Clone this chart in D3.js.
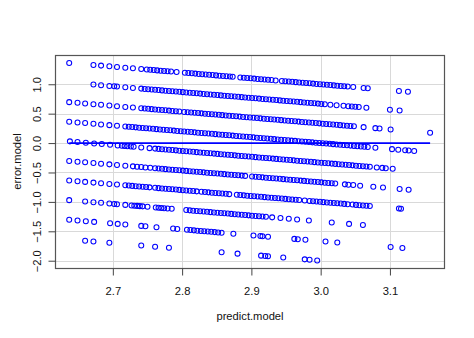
<!DOCTYPE html>
<html>
<head>
<meta charset="utf-8">
<script src="https://cdn.jsdelivr.net/npm/d3@7"></script>
<style>
  html, body { margin: 0; padding: 0; background: #ffffff; }
  svg { display: block; }
  text { font-family: "Liberation Sans", Arial, sans-serif; }
</style>
</head>
<body>
<svg id="chart" width="474" height="338"></svg>
<script>
// ---- data: predict.model (x) and error.model (y), by observed level band ----
const pred400 = [2.637,2.672,2.683,2.695,2.706,2.718,2.729,2.741,2.749,2.754,2.759,2.764,2.769,2.774,2.779,2.784,2.792,2.804,2.809,2.814,2.819,2.824,2.829,2.834,2.839,2.844,2.849,2.854,2.859,2.864,2.869,2.873,2.884,2.889,2.894,2.899,2.904,2.909,2.914,2.919,2.924,2.929,2.935,2.944,2.949,2.954,2.959,2.964,2.969,2.974,2.979,2.984,2.989,2.994,2.999,3.004,3.009,3.014,3.019,3.024,3.029,3.034,3.039,3.047,3.062,3.068,3.113,3.126];
const err400 = [1.363,1.328,1.317,1.305,1.294,1.282,1.271,1.259,1.251,1.246,1.241,1.236,1.231,1.226,1.221,1.216,1.208,1.196,1.191,1.186,1.181,1.176,1.171,1.166,1.161,1.156,1.151,1.146,1.141,1.136,1.131,1.127,1.116,1.111,1.106,1.101,1.096,1.091,1.086,1.081,1.076,1.071,1.065,1.056,1.051,1.046,1.041,1.036,1.031,1.026,1.021,1.016,1.011,1.006,1.001,0.996,0.991,0.986,0.981,0.976,0.971,0.966,0.961,0.953,0.938,0.932,0.887,0.874];

const pred367 = [2.672,2.683,2.695,2.702,2.706,2.718,2.729,2.741,2.746,2.751,2.756,2.761,2.766,2.771,2.776,2.781,2.786,2.791,2.796,2.801,2.806,2.811,2.816,2.821,2.826,2.831,2.836,2.841,2.846,2.851,2.856,2.861,2.866,2.871,2.876,2.881,2.886,2.891,2.896,2.901,2.906,2.911,2.916,2.921,2.926,2.931,2.936,2.941,2.946,2.951,2.956,2.961,2.966,2.971,2.976,2.981,2.986,2.991,2.996,3.001,3.006,3.014,3.023,3.033,3.040,3.045,3.050,3.055,3.066,3.100,3.114];
const err367 = [0.995,0.984,0.972,0.965,0.961,0.949,0.938,0.926,0.921,0.916,0.911,0.906,0.901,0.896,0.891,0.886,0.881,0.876,0.871,0.866,0.861,0.856,0.851,0.846,0.841,0.836,0.831,0.826,0.821,0.816,0.811,0.806,0.801,0.796,0.791,0.786,0.781,0.776,0.771,0.766,0.761,0.756,0.751,0.746,0.741,0.736,0.731,0.726,0.721,0.716,0.711,0.706,0.701,0.696,0.691,0.686,0.681,0.676,0.671,0.666,0.661,0.653,0.644,0.634,0.627,0.622,0.617,0.612,0.601,0.567,0.553];

const pred333 = [2.637,2.649,2.660,2.672,2.683,2.695,2.706,2.718,2.729,2.741,2.746,2.751,2.756,2.761,2.766,2.771,2.776,2.781,2.786,2.791,2.796,2.803,2.808,2.813,2.818,2.823,2.828,2.833,2.838,2.843,2.848,2.853,2.858,2.863,2.868,2.873,2.878,2.883,2.888,2.893,2.898,2.903,2.908,2.913,2.918,2.923,2.928,2.933,2.938,2.943,2.948,2.953,2.958,2.963,2.968,2.973,2.978,2.983,2.988,2.993,2.998,3.003,3.008,3.013,3.018,3.023,3.028,3.033,3.038,3.043,3.048,3.062,3.079,3.085,3.101,3.158];
const err333 = [0.696,0.684,0.673,0.661,0.650,0.638,0.627,0.615,0.604,0.592,0.587,0.582,0.577,0.572,0.567,0.562,0.557,0.552,0.547,0.542,0.537,0.530,0.525,0.520,0.515,0.510,0.505,0.500,0.495,0.490,0.485,0.480,0.475,0.470,0.465,0.460,0.455,0.450,0.445,0.440,0.435,0.430,0.425,0.420,0.415,0.410,0.405,0.400,0.395,0.390,0.385,0.380,0.375,0.370,0.365,0.360,0.355,0.350,0.345,0.340,0.335,0.330,0.325,0.320,0.315,0.310,0.305,0.300,0.295,0.290,0.285,0.271,0.254,0.248,0.232,0.175];

const pred300 = [2.637,2.649,2.660,2.672,2.683,2.695,2.706,2.718,2.723,2.728,2.733,2.738,2.743,2.748,2.753,2.758,2.763,2.768,2.773,2.778,2.783,2.788,2.793,2.798,2.803,2.808,2.813,2.818,2.823,2.828,2.833,2.838,2.843,2.848,2.853,2.858,2.863,2.868,2.873,2.878,2.883,2.888,2.893,2.898,2.903,2.908,2.913,2.918,2.923,2.928,2.933,2.938,2.943,2.948,2.953,2.958,2.963,2.968,2.973,2.978,2.983,2.988,2.993,2.998,3.003,3.008,3.013,3.018,3.023,3.028,3.033,3.038,3.043,3.048,3.053,3.058,3.063,3.068,3.079,3.103,3.112,3.122,3.127,3.135];
const err300 = [0.363,0.351,0.340,0.328,0.317,0.305,0.294,0.282,0.277,0.272,0.267,0.262,0.257,0.252,0.247,0.242,0.237,0.232,0.227,0.222,0.217,0.212,0.207,0.202,0.197,0.192,0.187,0.182,0.177,0.172,0.167,0.162,0.157,0.152,0.147,0.142,0.137,0.132,0.127,0.122,0.117,0.112,0.107,0.102,0.097,0.092,0.087,0.082,0.077,0.072,0.067,0.062,0.057,0.052,0.047,0.042,0.037,0.032,0.027,0.022,0.017,0.012,0.007,0.002,-0.003,-0.008,-0.013,-0.018,-0.023,-0.028,-0.033,-0.038,-0.043,-0.048,-0.053,-0.058,-0.063,-0.068,-0.079,-0.103,-0.112,-0.122,-0.127,-0.135];

const pred267 = [2.638,2.649,2.661,2.673,2.684,2.696,2.707,2.713,2.717,2.721,2.726,2.730,2.741,2.753,2.761,2.766,2.771,2.776,2.781,2.786,2.791,2.796,2.801,2.806,2.811,2.816,2.821,2.826,2.831,2.836,2.841,2.846,2.851,2.856,2.861,2.866,2.871,2.876,2.881,2.886,2.891,2.896,2.901,2.906,2.911,2.916,2.921,2.926,2.931,2.936,2.941,2.946,2.951,2.956,2.961,2.966,2.971,2.976,2.981,2.986,2.991,2.996,3.001,3.006,3.011,3.016,3.021,3.026,3.031,3.036,3.041,3.046,3.051,3.056,3.061,3.066,3.071,3.081,3.089,3.094,3.104];
const err267 = [0.029,0.018,0.006,-0.006,-0.017,-0.029,-0.040,-0.046,-0.050,-0.054,-0.059,-0.063,-0.074,-0.086,-0.094,-0.099,-0.104,-0.109,-0.114,-0.119,-0.124,-0.129,-0.134,-0.139,-0.144,-0.149,-0.154,-0.159,-0.164,-0.169,-0.174,-0.179,-0.184,-0.189,-0.194,-0.199,-0.204,-0.209,-0.214,-0.219,-0.224,-0.229,-0.234,-0.239,-0.244,-0.249,-0.254,-0.259,-0.264,-0.269,-0.274,-0.279,-0.284,-0.289,-0.294,-0.299,-0.304,-0.309,-0.314,-0.319,-0.324,-0.329,-0.334,-0.339,-0.344,-0.349,-0.354,-0.359,-0.364,-0.369,-0.374,-0.379,-0.384,-0.389,-0.394,-0.399,-0.404,-0.414,-0.422,-0.427,-0.437];

const pred233 = [2.637,2.649,2.660,2.672,2.683,2.695,2.706,2.718,2.729,2.735,2.741,2.747,2.754,2.761,2.766,2.771,2.776,2.781,2.786,2.791,2.796,2.801,2.806,2.811,2.816,2.821,2.826,2.831,2.836,2.841,2.846,2.851,2.856,2.861,2.866,2.871,2.876,2.881,2.886,2.891,2.901,2.906,2.911,2.916,2.921,2.926,2.931,2.936,2.941,2.946,2.951,2.956,2.961,2.966,2.971,2.976,2.981,2.986,2.991,2.996,3.001,3.006,3.011,3.016,3.021,3.035,3.040,3.047,3.057,3.076,3.090,3.114,3.127];
const err233 = [-0.304,-0.316,-0.327,-0.339,-0.350,-0.362,-0.373,-0.385,-0.396,-0.402,-0.408,-0.414,-0.421,-0.428,-0.433,-0.438,-0.443,-0.448,-0.453,-0.458,-0.463,-0.468,-0.473,-0.478,-0.483,-0.488,-0.493,-0.498,-0.503,-0.508,-0.513,-0.518,-0.523,-0.528,-0.533,-0.538,-0.543,-0.548,-0.553,-0.558,-0.568,-0.573,-0.578,-0.583,-0.588,-0.593,-0.598,-0.603,-0.608,-0.613,-0.618,-0.623,-0.628,-0.633,-0.638,-0.643,-0.648,-0.653,-0.658,-0.663,-0.668,-0.673,-0.678,-0.683,-0.688,-0.702,-0.707,-0.714,-0.724,-0.743,-0.757,-0.781,-0.794];

const pred200 = [2.637,2.649,2.660,2.672,2.683,2.695,2.706,2.718,2.723,2.728,2.733,2.738,2.743,2.748,2.753,2.761,2.766,2.771,2.776,2.781,2.786,2.791,2.796,2.801,2.806,2.811,2.816,2.821,2.828,2.833,2.838,2.843,2.848,2.853,2.858,2.863,2.868,2.879,2.884,2.889,2.894,2.899,2.904,2.909,2.914,2.919,2.924,2.929,2.934,2.939,2.944,2.949,2.954,2.959,2.964,2.969,2.977,2.984,2.989,2.994,2.999,3.004,3.009,3.014,3.019,3.024,3.029,3.034,3.039,3.046,3.051,3.056,3.061,3.066,3.071,3.113,3.116];
const err200 = [-0.637,-0.649,-0.660,-0.672,-0.683,-0.695,-0.706,-0.718,-0.723,-0.728,-0.733,-0.738,-0.743,-0.748,-0.753,-0.761,-0.766,-0.771,-0.776,-0.781,-0.786,-0.791,-0.796,-0.801,-0.806,-0.811,-0.816,-0.821,-0.828,-0.833,-0.838,-0.843,-0.848,-0.853,-0.858,-0.863,-0.868,-0.879,-0.884,-0.889,-0.894,-0.899,-0.904,-0.909,-0.914,-0.919,-0.924,-0.929,-0.934,-0.939,-0.944,-0.949,-0.954,-0.959,-0.964,-0.969,-0.977,-0.984,-0.989,-0.994,-0.999,-1.004,-1.009,-1.014,-1.019,-1.024,-1.029,-1.034,-1.039,-1.046,-1.051,-1.056,-1.061,-1.066,-1.071,-1.113,-1.116];

const pred167 = [2.637,2.660,2.672,2.683,2.695,2.702,2.706,2.718,2.727,2.731,2.735,2.739,2.743,2.750,2.762,2.766,2.770,2.774,2.779,2.785,2.806,2.811,2.816,2.821,2.826,2.831,2.836,2.841,2.846,2.851,2.856,2.861,2.866,2.871,2.876,2.881,2.886,2.891,2.896,2.901,2.906,2.911,2.916,2.921,2.930,2.942,2.954,2.966,2.983,3.016,3.041,3.061];
const err167 = [-0.970,-0.993,-1.005,-1.016,-1.028,-1.035,-1.039,-1.051,-1.060,-1.064,-1.068,-1.072,-1.076,-1.083,-1.095,-1.099,-1.103,-1.107,-1.112,-1.118,-1.139,-1.144,-1.149,-1.154,-1.159,-1.164,-1.169,-1.174,-1.179,-1.184,-1.189,-1.194,-1.199,-1.204,-1.209,-1.214,-1.219,-1.224,-1.229,-1.234,-1.239,-1.244,-1.249,-1.254,-1.263,-1.275,-1.287,-1.299,-1.316,-1.349,-1.374,-1.394];

const pred133 = [2.637,2.649,2.661,2.673,2.696,2.707,2.718,2.741,2.747,2.763,2.787,2.793,2.807,2.812,2.817,2.822,2.827,2.832,2.837,2.842,2.847,2.852,2.857,2.874,2.903,2.913,2.916,2.924,2.962,2.967,2.978,3.007,3.024,3.101,3.118];
const err133 = [-1.304,-1.316,-1.328,-1.340,-1.363,-1.374,-1.385,-1.408,-1.414,-1.430,-1.454,-1.460,-1.474,-1.479,-1.484,-1.489,-1.494,-1.499,-1.504,-1.509,-1.514,-1.519,-1.524,-1.541,-1.570,-1.580,-1.583,-1.591,-1.629,-1.634,-1.645,-1.674,-1.691,-1.768,-1.785];

const pred100 = [2.660,2.672,2.695,2.741,2.761,2.781,2.857,2.880,2.914,2.920,2.924,2.946,2.977,2.984,2.995];
const err100 = [-1.660,-1.672,-1.695,-1.741,-1.761,-1.781,-1.857,-1.880,-1.914,-1.920,-1.924,-1.946,-1.977,-1.984,-1.995];

// fitted line of error.model on predict.model
const fitX = [2.637, 3.158];
const fitY = [0.0, 0.0];

// axis ticks and labels
const xTicks = [2.7, 2.8, 2.9, 3.0, 3.1];
const yTicks = [-2.0, -1.5, -1.0, -0.5, 0.0, 0.5, 1.0];
const xTitle = "predict.model";
const yTitle = "error.model";

// ---- drawing ----
const L = 55, R = 445, T = 55, B = 268;
const svg = d3.select("#chart");

const x = d3.scaleLinear().domain([2.6165, 3.1795]).range([L, R]);
const y = d3.scaleLinear().domain([-2.124, 1.4975]).range([B, T]);

const bands = [
  [pred400, err400], [pred367, err367], [pred333, err333], [pred300, err300],
  [pred267, err267], [pred233, err233], [pred200, err200], [pred167, err167],
  [pred133, err133], [pred100, err100]
];
const points = [];
bands.forEach(([px, ey]) => px.forEach((v, i) => points.push({ p: v, e: ey[i] })));

// grid
const grid = svg.append("g").attr("stroke", "#d9d9d9").attr("stroke-width", 1);
xTicks.forEach(t => {
  const xx = Math.round(x(t)) + 0.5;
  grid.append("line").attr("x1", xx).attr("x2", xx).attr("y1", T).attr("y2", B);
});
yTicks.forEach(t => {
  const yy = Math.round(y(t)) + 0.5;
  grid.append("line").attr("x1", L).attr("x2", R).attr("y1", yy).attr("y2", yy);
});

// points
svg.append("g")
  .selectAll("circle")
  .data(points)
  .join("circle")
  .attr("cx", d => x(d.p))
  .attr("cy", d => y(d.e))
  .attr("r", 2.5)
  .attr("fill", "none")
  .attr("stroke", "#0000ff")
  .attr("stroke-width", 1.05);

// fitted line
svg.append("path")
  .datum(fitX.map((v, i) => [v, fitY[i]]))
  .attr("d", d3.line().x(d => x(d[0])).y(d => y(d[1])))
  .attr("fill", "none")
  .attr("stroke", "#0000ff")
  .attr("stroke-width", 1.8);

// box
svg.append("rect")
  .attr("x", L + 0.5).attr("y", T + 0.5)
  .attr("width", R - L - 1).attr("height", B - T)
  .attr("fill", "none").attr("stroke", "#555").attr("stroke-width", 1.2);

// x axis
const xAxis = svg.append("g")
  .attr("transform", `translate(0,${B + 0.5})`)
  .call(d3.axisBottom(x).tickValues(xTicks).tickSize(7).tickFormat(d3.format(".1f")));
xAxis.select(".domain").remove();
xAxis.selectAll(".tick line").attr("stroke", "#444");
xAxis.selectAll(".tick text")
  .attr("y", 26).attr("dy", 0)
  .attr("font-size", 11.2).attr("fill", "#111")
  .attr("font-family", "Liberation Sans, Arial, sans-serif");

// y axis
const yAxis = svg.append("g")
  .attr("transform", `translate(${L + 0.5},0)`)
  .call(d3.axisLeft(y).tickValues(yTicks).tickSize(7).tickFormat(d3.format(".1f")));
yAxis.select(".domain").remove();
yAxis.selectAll(".tick line").attr("stroke", "#444");
yAxis.selectAll(".tick text")
  .attr("transform", "rotate(-90)")
  .attr("x", 0).attr("y", -14.8).attr("dy", 0)
  .attr("text-anchor", "middle")
  .attr("font-size", 11.2).attr("fill", "#111")
  .attr("font-family", "Liberation Sans, Arial, sans-serif");

// titles
svg.append("text")
  .attr("x", (L + R) / 2).attr("y", 319.5)
  .attr("text-anchor", "middle")
  .attr("font-size", 11.2).attr("fill", "#111")
  .text(xTitle);
svg.append("text")
  .attr("transform", `translate(20.7,${(T + B) / 2}) rotate(-90)`)
  .attr("text-anchor", "middle")
  .attr("font-size", 11.2).attr("fill", "#111")
  .text(yTitle);
</script>
</body>
</html>
